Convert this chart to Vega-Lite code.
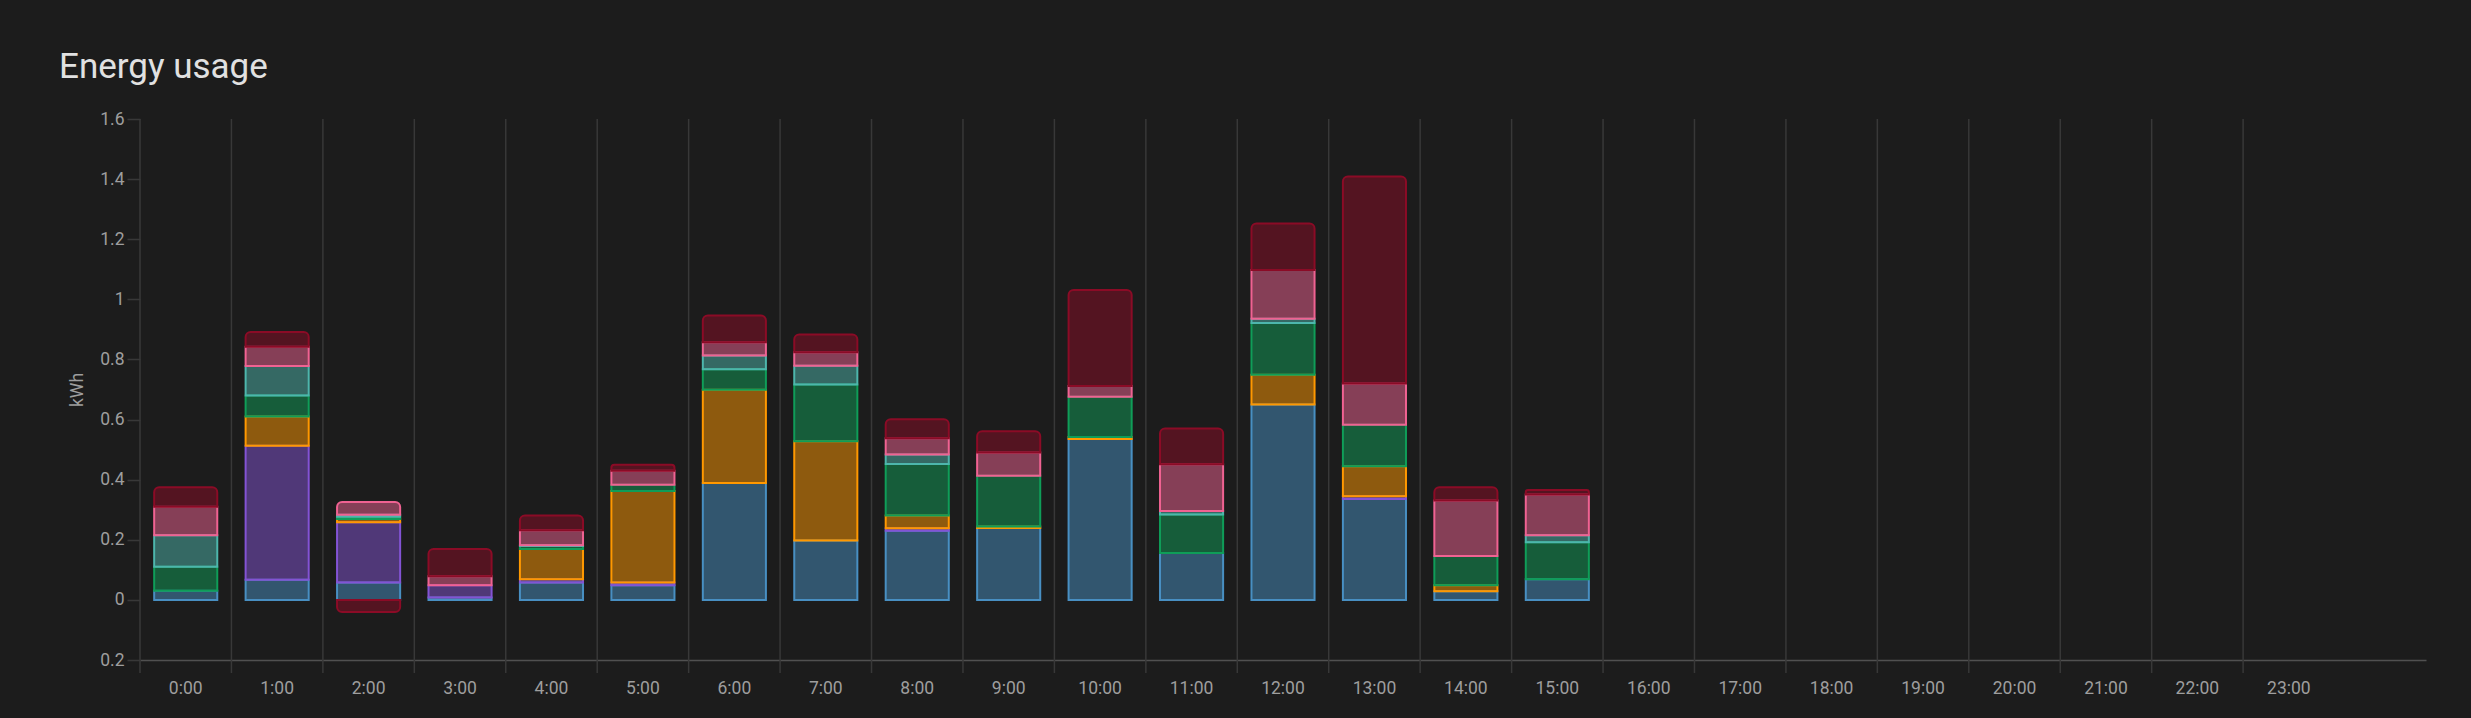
{
  "$schema": "https://vega.github.io/schema/vega-lite/v6.json",
  "width": 2286,
  "height": 541,
  "autosize": "none",
  "padding": {"left": 140, "top": 119, "right": 45, "bottom": 58},
  "background": "#1c1c1c",
  "title": {
    "text": "Energy usage",
    "anchor": "start",
    "dx": -9,
    "offset": 25,
    "font": "Roboto",
    "fontSize": 35,
    "fontWeight": "normal",
    "color": "#e1e1e1"
  },
  "config": {
    "view": {"stroke": null},
    "axis": {"labelFont": "Roboto", "titleFont": "Roboto"}
  },
  "datasets": {
    "hours": [
      {"hour": "0:00"}, {"hour": "1:00"}, {"hour": "2:00"}, {"hour": "3:00"},
      {"hour": "4:00"}, {"hour": "5:00"}, {"hour": "6:00"}, {"hour": "7:00"},
      {"hour": "8:00"}, {"hour": "9:00"}, {"hour": "10:00"}, {"hour": "11:00"},
      {"hour": "12:00"}, {"hour": "13:00"}, {"hour": "14:00"}, {"hour": "15:00"},
      {"hour": "16:00"}, {"hour": "17:00"}, {"hour": "18:00"}, {"hour": "19:00"},
      {"hour": "20:00"}, {"hour": "21:00"}, {"hour": "22:00"}, {"hour": "23:00"}
    ],
    "usage": [
      {"hour": "0:00", "series": "grid", "value": 0.03},
      {"hour": "0:00", "series": "green", "value": 0.08},
      {"hour": "0:00", "series": "teal", "value": 0.105},
      {"hour": "0:00", "series": "pink", "value": 0.095},
      {"hour": "0:00", "series": "red", "value": 0.065},

      {"hour": "1:00", "series": "grid", "value": 0.067},
      {"hour": "1:00", "series": "battery", "value": 0.446},
      {"hour": "1:00", "series": "solar", "value": 0.097},
      {"hour": "1:00", "series": "green", "value": 0.07},
      {"hour": "1:00", "series": "teal", "value": 0.098},
      {"hour": "1:00", "series": "pink", "value": 0.064},
      {"hour": "1:00", "series": "red", "value": 0.049},

      {"hour": "2:00", "series": "grid", "value": 0.058},
      {"hour": "2:00", "series": "battery", "value": 0.2},
      {"hour": "2:00", "series": "solar", "value": 0.011},
      {"hour": "2:00", "series": "green", "value": 0.008},
      {"hour": "2:00", "series": "teal", "value": 0.006},
      {"hour": "2:00", "series": "pink", "value": 0.043},
      {"hour": "2:00", "series": "red", "value": -0.04},

      {"hour": "3:00", "series": "grid", "value": 0.008},
      {"hour": "3:00", "series": "battery", "value": 0.041},
      {"hour": "3:00", "series": "pink", "value": 0.03},
      {"hour": "3:00", "series": "red", "value": 0.09},

      {"hour": "4:00", "series": "grid", "value": 0.058},
      {"hour": "4:00", "series": "battery", "value": 0.011},
      {"hour": "4:00", "series": "solar", "value": 0.1},
      {"hour": "4:00", "series": "green", "value": 0.01},
      {"hour": "4:00", "series": "teal", "value": 0.003},
      {"hour": "4:00", "series": "pink", "value": 0.05},
      {"hour": "4:00", "series": "red", "value": 0.049},

      {"hour": "5:00", "series": "grid", "value": 0.049},
      {"hour": "5:00", "series": "battery", "value": 0.009},
      {"hour": "5:00", "series": "solar", "value": 0.304},
      {"hour": "5:00", "series": "green", "value": 0.021},
      {"hour": "5:00", "series": "pink", "value": 0.047},
      {"hour": "5:00", "series": "red", "value": 0.02},

      {"hour": "6:00", "series": "grid", "value": 0.389},
      {"hour": "6:00", "series": "solar", "value": 0.31},
      {"hour": "6:00", "series": "green", "value": 0.068},
      {"hour": "6:00", "series": "teal", "value": 0.046},
      {"hour": "6:00", "series": "pink", "value": 0.044},
      {"hour": "6:00", "series": "red", "value": 0.089},

      {"hour": "7:00", "series": "grid", "value": 0.198},
      {"hour": "7:00", "series": "solar", "value": 0.33},
      {"hour": "7:00", "series": "green", "value": 0.189},
      {"hour": "7:00", "series": "teal", "value": 0.062},
      {"hour": "7:00", "series": "pink", "value": 0.045},
      {"hour": "7:00", "series": "red", "value": 0.059},

      {"hour": "8:00", "series": "grid", "value": 0.23},
      {"hour": "8:00", "series": "battery", "value": 0.008},
      {"hour": "8:00", "series": "solar", "value": 0.043},
      {"hour": "8:00", "series": "green", "value": 0.171},
      {"hour": "8:00", "series": "teal", "value": 0.032},
      {"hour": "8:00", "series": "pink", "value": 0.054},
      {"hour": "8:00", "series": "red", "value": 0.063},

      {"hour": "9:00", "series": "grid", "value": 0.239},
      {"hour": "9:00", "series": "solar", "value": 0.005},
      {"hour": "9:00", "series": "green", "value": 0.169},
      {"hour": "9:00", "series": "pink", "value": 0.077},
      {"hour": "9:00", "series": "red", "value": 0.071},

      {"hour": "10:00", "series": "grid", "value": 0.535},
      {"hour": "10:00", "series": "solar", "value": 0.007},
      {"hour": "10:00", "series": "green", "value": 0.134},
      {"hour": "10:00", "series": "pink", "value": 0.036},
      {"hour": "10:00", "series": "red", "value": 0.319},

      {"hour": "11:00", "series": "grid", "value": 0.156},
      {"hour": "11:00", "series": "green", "value": 0.128},
      {"hour": "11:00", "series": "teal", "value": 0.012},
      {"hour": "11:00", "series": "pink", "value": 0.155},
      {"hour": "11:00", "series": "red", "value": 0.119},

      {"hour": "12:00", "series": "grid", "value": 0.65},
      {"hour": "12:00", "series": "solar", "value": 0.099},
      {"hour": "12:00", "series": "green", "value": 0.172},
      {"hour": "12:00", "series": "teal", "value": 0.014},
      {"hour": "12:00", "series": "pink", "value": 0.163},
      {"hour": "12:00", "series": "red", "value": 0.154},

      {"hour": "13:00", "series": "grid", "value": 0.336},
      {"hour": "13:00", "series": "battery", "value": 0.009},
      {"hour": "13:00", "series": "solar", "value": 0.1},
      {"hour": "13:00", "series": "green", "value": 0.138},
      {"hour": "13:00", "series": "pink", "value": 0.137},
      {"hour": "13:00", "series": "red", "value": 0.689},

      {"hour": "14:00", "series": "grid", "value": 0.029},
      {"hour": "14:00", "series": "solar", "value": 0.02},
      {"hour": "14:00", "series": "green", "value": 0.097},
      {"hour": "14:00", "series": "pink", "value": 0.185},
      {"hour": "14:00", "series": "red", "value": 0.044},

      {"hour": "15:00", "series": "grid", "value": 0.069},
      {"hour": "15:00", "series": "green", "value": 0.123},
      {"hour": "15:00", "series": "teal", "value": 0.023},
      {"hour": "15:00", "series": "pink", "value": 0.136},
      {"hour": "15:00", "series": "red", "value": 0.015}
    ]
  },
  "encoding": {
    "x": {
      "field": "hour",
      "type": "ordinal",
      "scale": {
        "domain": ["0:00", "1:00", "2:00", "3:00", "4:00", "5:00", "6:00", "7:00", "8:00", "9:00", "10:00", "11:00", "12:00", "13:00", "14:00", "15:00", "16:00", "17:00", "18:00", "19:00", "20:00", "21:00", "22:00", "23:00", "24:00"],
        "paddingInner": 0,
        "paddingOuter": 0
      },
      "axis": {
        "title": null,
        "labelAngle": 0,
        "labelExpr": "datum.value == '24:00' ? '' : datum.value",
        "labelFontSize": 17.5,
        "labelColor": "#9e9e9e",
        "labelPadding": 19,
        "ticks": false,
        "grid": false,
        "domainColor": "#505050",
        "domainWidth": 1.5
      }
    }
  },
  "layer": [
    {
      "data": {"name": "hours"},
      "mark": {"type": "rule", "color": "#383838", "strokeWidth": 1.5, "y2Offset": 13},
      "encoding": {
        "x": {
          "field": "hour",
          "type": "ordinal",
          "bandPosition": 0,
          "scale": {
            "domain": ["0:00", "1:00", "2:00", "3:00", "4:00", "5:00", "6:00", "7:00", "8:00", "9:00", "10:00", "11:00", "12:00", "13:00", "14:00", "15:00", "16:00", "17:00", "18:00", "19:00", "20:00", "21:00", "22:00", "23:00", "24:00"],
            "paddingInner": 0,
            "paddingOuter": 0
          },
          "axis": {
            "title": null,
            "labelAngle": 0,
            "labelExpr": "datum.value == '24:00' ? '' : datum.value",
            "labelFontSize": 17.5,
            "labelColor": "#9e9e9e",
            "labelPadding": 19,
            "ticks": false,
            "grid": false,
            "domainColor": "#505050",
            "domainWidth": 1.5
          }
        },
        "y": {"datum": 1.6, "type": "quantitative"},
        "y2": {"datum": -0.2}
      }
    },
    {
      "data": {"name": "usage"},
      "transform": [
        {"calculate": "indexof(['grid','battery','solar','green','teal','pink','red'], datum.series)", "as": "k"},
        {"stack": "value", "groupby": ["hour"], "sort": [{"field": "k", "order": "ascending"}], "as": ["v0", "v1"]},
        {"joinaggregate": [{"op": "max", "field": "v1", "as": "vmax"}, {"op": "min", "field": "v1", "as": "vmin"}], "groupby": ["hour"]}
      ],
      "mark": {
        "type": "bar",
        "width": {"band": 0.69},
        "fillOpacity": 0.5,
        "strokeWidth": 2,
        "cornerRadiusTopLeft": {"expr": "datum.v1 == datum.vmax && datum.value > 0 ? 5 : 0"},
        "cornerRadiusTopRight": {"expr": "datum.v1 == datum.vmax && datum.value > 0 ? 5 : 0"},
        "cornerRadiusBottomLeft": {"expr": "datum.v1 == datum.vmin && datum.value < 0 ? 5 : 0"},
        "cornerRadiusBottomRight": {"expr": "datum.v1 == datum.vmin && datum.value < 0 ? 5 : 0"}
      },
      "encoding": {
        "y": {
          "field": "v1",
          "type": "quantitative",
          "scale": {"domain": [-0.2, 1.6], "nice": false, "zero": false},
          "axis": {
            "title": "kWh",
            "titleColor": "#9e9e9e",
            "titleFontSize": 17.5,
            "titleFontWeight": "normal",
            "titleX": -58,
            "titleY": 270.5,
            "titleBaseline": "alphabetic",
            "values": [-0.2, 0, 0.2, 0.4, 0.6, 0.8, 1, 1.2, 1.4, 1.6],
            "labelExpr": "format(abs(datum.value), '~g')",
            "labelFontSize": 17.5,
            "labelColor": "#9e9e9e",
            "labelPadding": 3,
            "tickSize": 13,
            "tickColor": "#383838",
            "tickWidth": 1.5,
            "domain": false,
            "gridColor": "#383838",
            "gridWidth": 1.5
          }
        },
        "y2": {"field": "v0"},
        "fill": {
          "field": "series",
          "type": "nominal",
          "legend": null,
          "scale": {
            "domain": ["grid", "battery", "solar", "green", "teal", "pink", "red"],
            "range": ["#488fc2", "#8353d4", "#ff9800", "#0f9d58", "#4db6ac", "#f06292", "#8b0b26"]
          }
        },
        "stroke": {
          "field": "series",
          "type": "nominal",
          "legend": null,
          "scale": {
            "domain": ["grid", "battery", "solar", "green", "teal", "pink", "red"],
            "range": ["#488fc2", "#8353d4", "#ff9800", "#0f9d58", "#4db6ac", "#f06292", "#8b0b26"]
          }
        }
      }
    }
  ]
}
